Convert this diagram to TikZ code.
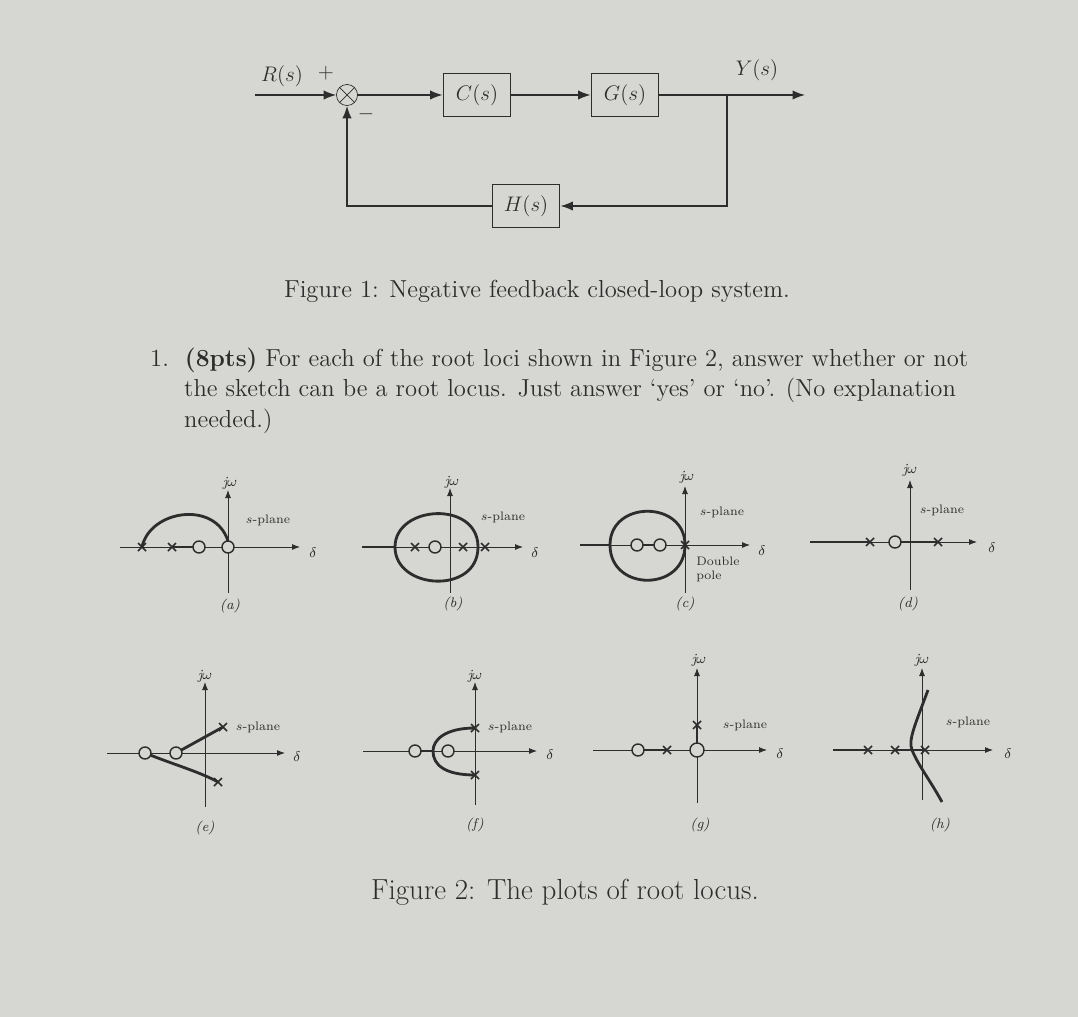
\documentclass[tikz,border=0pt]{standalone}
\usetikzlibrary{arrows.meta}
\definecolor{paper}{RGB}{214,214,210}
\definecolor{ink}{RGB}{45,45,45}
\begin{document}
\begin{tikzpicture}[x=0.02cm,y=-0.02cm,
  blk/.style={draw=ink,thick,minimum width=1.35cm,minimum height=0.85cm,font=\large,text=ink},
  sig/.style={draw=ink,thick,-{Latex[length=2.5mm]}},
  ax/.style={draw=ink,line width=0.5pt},
  axa/.style={draw=ink,line width=0.5pt,-{Latex[length=1.6mm]}},
  loc/.style={draw=ink,line width=1.6pt},
  zer/.style={draw=ink,line width=0.8pt,fill=paper},
  lab/.style={font=\footnotesize\itshape,text=ink},
  sm/.style={font=\scriptsize,text=ink},
  txt/.style={text=ink,anchor=west,font=\fontsize{14}{17}\selectfont}]
\fill[paper] (0,0) rectangle (1078,1017);
\useasboundingbox (0,0) rectangle (1078,1017);
\newcommand{\pX}[2]{\draw[ink,line width=0.9pt] (#1-4,#2-4)--(#1+4,#2+4) (#1-4,#2+4)--(#1+4,#2-4);}
% block diagram
\coordinate (in) at (255,95);
\node[draw=ink,circle,inner sep=0pt,minimum size=12pt] (sum) at (347,95) {};
\draw[ink] (sum.north west)--(sum.south east) (sum.north east)--(sum.south west);
\node[blk] (C) at (477,95) {$C(s)$};
\node[blk] (G) at (625,95) {$G(s)$};
\node[blk] (H) at (526,206) {$H(s)$};
\coordinate (br) at (727,95);
\coordinate (out) at (805,95);
\node[text=ink,font=\large] (R) at (282,76) {$R(s)$};
\node[text=ink,font=\large] (plus) at (326,73) {$+$};
\node[text=ink,font=\large] (minus) at (366,114) {$-$};
\node[text=ink,font=\large] (Y) at (757,70) {$Y(s)$};
\draw[sig] (in)--(sum);
\draw[sig] (sum)--(C);
\draw[sig] (C.east) -- (G.west);
\draw[sig] (G.east)--(out);
\draw[sig] (br)|-(H.east);
\draw[sig] (H.west)-|(sum.south);
\node[text=ink,font=\fontsize{14}{17}\selectfont] (cap1) at (537,291) {Figure 1: Negative feedback closed-loop system.};
\node[txt] (q1) at (144,360) {1.~~\textbf{(8pts)} For each of the root loci shown in Figure 2, answer whether or not};
\node[txt] (q2) at (178,390) {the sketch can be a root locus. Just answer `yes' or `no'. (No explanation};
\node[txt] (q3) at (178,421) {needed.)};
% (a)
\draw[axa] (228,593)--(228,490); \draw[axa] (120,547)--(300,547);
\node[lab] at (230,483) {j$\omega$}; \node[sm] at (268,520) {$s$-plane}; \node[lab] at (313,553) {$\delta$}; \node[lab] at (230,606) {(a)};
\draw[loc] (142,547) .. controls (150,510) and (215,500) .. (228,541);
\draw[loc] (172,547)--(193,547);
\pX{142}{547}\pX{172}{547}
\draw[zer] (199,547) circle (6); \draw[zer] (228,547) circle (6);
% (b)
\draw[axa] (450,593)--(450,488); \draw[axa] (362,547)--(523,547);
\node[lab] at (452,482) {j$\omega$}; \node[sm] at (503,517) {$s$-plane}; \node[lab] at (535,553) {$\delta$}; \node[lab] at (453,604) {(b)};
\draw[loc] (362,547)--(395,547);
\draw[loc] (395,547) .. controls (395,505) and (478,500) .. (478,547) .. controls (478,595) and (395,590) .. (395,547);
\pX{415}{547}\pX{463}{547}\pX{485}{547}
\draw[zer] (435,547) circle (6);
% (c)
\draw[axa] (685,593)--(685,486); \draw[axa] (580,545)--(750,545);
\node[lab] at (687,477) {j$\omega$}; \node[sm] at (722,512) {$s$-plane}; \node[lab] at (762,551) {$\delta$}; \node[lab] at (685,604) {(c)};
\node[sm,align=left] at (718,569) {Double\\pole};
\draw[loc] (580,545)--(610,545);
\draw[loc] (610,545) .. controls (610,500) and (685,500) .. (685,545) .. controls (685,592) and (610,592) .. (610,545);
\draw[ink,line width=0.8pt] (637,545)--(660,545);
\draw[zer] (637,545) circle (6); \draw[zer] (660,545) circle (6);
\pX{685}{545}
% (d)
\draw[axa] (910,590)--(910,480); \draw[axa] (810,542)--(977,542);
\node[lab] at (910,470) {j$\omega$}; \node[sm] at (942,510) {$s$-plane}; \node[lab] at (992,548) {$\delta$}; \node[lab] at (908,604) {(d)};
\draw[loc] (810,542)--(870,542); \draw[loc] (901,542)--(938,542);
\pX{870}{542}\pX{938}{542}
\draw[zer] (895,542) circle (6);
% (e)
\draw[axa] (205,807)--(205,682); \draw[axa] (107,753)--(285,753);
\node[lab] at (205,676) {j$\omega$}; \node[sm] at (258,727) {$s$-plane}; \node[lab] at (297,757) {$\delta$}; \node[lab] at (205,828) {(e)};
\draw[loc] (176,753)--(223,727);
\draw[loc] (145,753) .. controls (175,765) and (200,772) .. (218,782);
\draw[zer] (145,753) circle (6); \draw[zer] (176,753) circle (6);
\pX{223}{727}\pX{218}{782}
% (f)
\draw[axa] (475,805)--(475,682); \draw[axa] (363,751)--(537,751);
\node[lab] at (475,676) {j$\omega$}; \node[sm] at (510,727) {$s$-plane}; \node[lab] at (550,755) {$\delta$}; \node[lab] at (475,825) {(f)};
\draw[loc] (415,751)--(433,751);
\draw[loc] (475,728) .. controls (445,728) and (433,740) .. (433,751) .. controls (433,765) and (445,775) .. (475,775);
\draw[zer] (415,751) circle (6); \draw[zer] (448,751) circle (6);
\pX{475}{728}\pX{475}{775}
% (g)
\draw[axa] (697,803)--(697,668); \draw[axa] (593,750)--(767,750);
\node[lab] at (699,660) {j$\omega$}; \node[sm] at (745,725) {$s$-plane}; \node[lab] at (780,754) {$\delta$}; \node[lab] at (700,825) {(g)};
\draw[loc] (644,750)--(667,750); \draw[loc] (697,725)--(697,743);
\pX{667}{750}\pX{697}{725}
\draw[zer] (638,750) circle (6); \draw[zer] (697,750) circle (7);
% (h)
\draw[axa] (922,800)--(922,668); \draw[axa] (833,750)--(993,750);
\node[lab] at (922,660) {j$\omega$}; \node[sm] at (968,722) {$s$-plane}; \node[lab] at (1008,754) {$\delta$}; \node[lab] at (940,825) {(h)};
\draw[loc] (833,750)--(868,750); \draw[loc] (895,750)--(925,750);
\draw[loc] (928,690) .. controls (915,725) and (908,740) .. (912,750) .. controls (918,765) and (930,780) .. (942,802);
\pX{868}{750}\pX{895}{750}\pX{925}{750}
\node[text=ink,font=\fontsize{16.5}{20}\selectfont] (cap2) at (565,892) {Figure 2: The plots of root locus.};
\end{tikzpicture}
\end{document}
